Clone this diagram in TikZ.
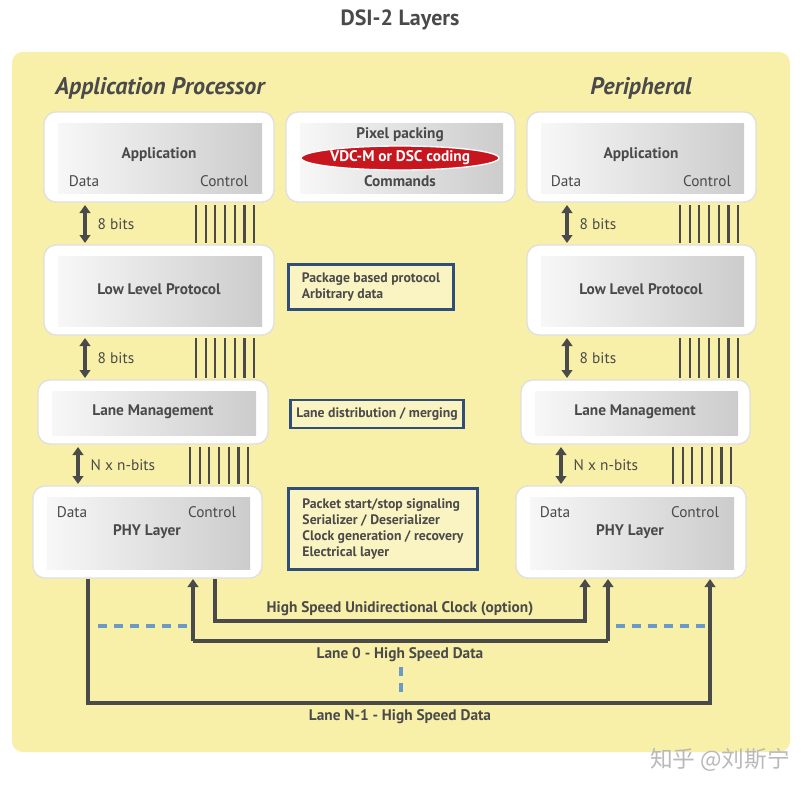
\documentclass[tikz,border=0pt]{standalone}
\usepackage{fontspec}
\setmainfont{PT Sans}
\newfontfamily\cjk{Noto Sans CJK SC}
\usetikzlibrary{arrows.meta,shapes.geometric}
\definecolor{bgy}{HTML}{F8F0A8}
\definecolor{dk}{HTML}{4A4A4A}
\definecolor{bl}{HTML}{2F4F7A}
\definecolor{dash}{HTML}{6A9BC8}
\definecolor{redc}{HTML}{C8161E}
\begin{document}
\begin{tikzpicture}[x=0.75pt,y=-0.75pt,
 outer/.style={draw=gray!25,fill=white,rounded corners=9pt,line width=1pt},
 inner/.style={left color=gray!6,right color=gray!40,draw=none},
 lbl/.style={font=\bfseries\fontsize{11.5}{13}\selectfont,text=dk},
 sm/.style={font=\fontsize{11.5}{13}\selectfont,text=dk},
 info/.style={draw=bl,line width=2pt,fill=bgy!70,align=left,font=\bfseries\fontsize{10.3}{12.2}\selectfont,text=dk,inner sep=3pt},
 bus/.style={draw=dk,line width=2.5pt},
 dar/.style={draw=dk,line width=2.5pt,{Triangle[length=6pt,width=8pt]}-{Triangle[length=6pt,width=8pt]}},
 uar/.style={draw=dk,line width=2.5pt,-{Triangle[length=6pt,width=8pt]}},
 dsh/.style={draw=dash,line width=2.4pt,dash pattern=on 7pt off 5pt}]
\useasboundingbox (0,0) rectangle (802,792);
\fill[white] (0,0) rectangle (802,792);
\fill[bgy,rounded corners=8pt] (12,52) rectangle (790,752);
\node[font=\bfseries\fontsize{16.5}{19}\selectfont,text=dk] (title) at (400,20) {DSI-2 Layers};
\node[font=\bfseries\itshape\fontsize{18}{21}\selectfont,text=dk] (ap) at (160,88) {Application Processor};
\node[font=\bfseries\itshape\fontsize{18}{21}\selectfont,text=dk] (pe) at (641,88) {Peripheral};
\foreach \x/\y/\w/\h/\n in {44/112/230/90/a, 44/245/230/90/b, 38/380/230/64/c, 33/486/229/92/d, 527/112/229/90/e, 527/245/229/90/f, 521/380/229/64/g, 516/486/230/92/h, 286/112/229/90/m}{
  \draw[outer] (\x,\y) rectangle ++(\w,\h);
  \fill[inner] (\x+14,\y+11) rectangle ++(\w-26,\h-20);
}
\node[lbl] (appL) at (159,155) {Application};
\node[sm] (dL) at (84,181) {Data};
\node[sm] (cL) at (224,181) {Control};
\node[lbl] (llpL) at (159,289) {Low Level Protocol};
\node[lbl] (lmL) at (153,412) {Lane Management};
\node[sm] (d2L) at (72,512) {Data};
\node[sm] (c2L) at (212,512) {Control};
\node[lbl] (phyL) at (147,532) {PHY Layer};
\node[lbl] (appR) at (641,155) {Application};
\node[sm] (dR) at (566,181) {Data};
\node[sm] (cR) at (707,181) {Control};
\node[lbl] (llpR) at (641,289) {Low Level Protocol};
\node[lbl] (lmR) at (635,412) {Lane Management};
\node[sm] (d2R) at (555,512) {Data};
\node[sm] (c2R) at (695,512) {Control};
\node[lbl] (phyR) at (630,532) {PHY Layer};
\node[lbl] (pp) at (400,135) {Pixel packing};
\node[fill=redc,ellipse,draw=white,line width=1pt,inner sep=0pt,minimum width=146pt,minimum height=18pt,font=\bfseries\fontsize{11.5}{13}\selectfont,text=white] (vdc) at (400,158) {VDC-M or DSC coding};
\node[lbl] (cmd) at (400,181) {Commands};
\node[info,minimum width=124pt,minimum height=34pt] (i1) at (371,287) {Package based protocol\\Arbitrary data};
\node[info,minimum width=130pt,minimum height=21pt] (i2) at (377,414) {Lane distribution / merging};
\node[info,minimum width=142pt,minimum height=61pt] (i3) at (383,529) {Packet start/stop signaling\\Serializer / Deserializer\\Clock generation / recovery\\Electrical layer};
\foreach \xx/\ya/\yb/\t in {85/205/243/8 bits,85/338/378/8 bits,78/447/484/N x n-bits,567/205/243/8 bits,567/338/378/8 bits,561/447/484/N x n-bits}{
  \draw[dar] (\xx,\ya) -- (\xx,\yb);
  \node[sm,anchor=west] at (\xx+8,{(\ya+\yb)/2}) {\t};
}
\foreach \xs/\ya/\yb in {196/205/243,196/338/378,190/447/484,680/205/243,680/338/378,673/447/484}{
  \foreach \k in {0,...,6}{\draw[draw=dk,line width=1.6pt] (\xs+\k*9.7,\ya) -- (\xs+\k*9.7,\yb);}
}
\coordinate (c0) at (215,579); \coordinate (c1) at (585,579);
\coordinate (l0) at (193,579); \coordinate (l1) at (608,579);
\coordinate (n0) at (88,579); \coordinate (n1) at (710,579);
\draw[uar] (c0) -- (215,621) -- (585,621) -- (c1);
\draw[uar] (608,641) -- (l1);
\draw[uar] (193,641) -- (l0);
\draw[bus] (193,641) -- (608,641);
\draw[uar] (n0) -- (88,703) -- (710,703) -- (n1);
\node[lbl] (clk) at (400,609) {High Speed Unidirectional Clock (option)};
\node[lbl] (ln0) at (400,655) {Lane 0 - High Speed Data};
\node[lbl] (lnN) at (400,717) {Lane N-1 - High Speed Data};
\draw[dsh] (98,626) -- (188,626);
\draw[dsh] (616,626) -- (705,626);
\draw[dsh] (401,667) -- (401,697);
\node[font=\cjk\fontsize{17}{20}\selectfont,text=gray!55] (wm) at (720,760) {知乎 @刘斯宁};
\end{tikzpicture}
\end{document}
